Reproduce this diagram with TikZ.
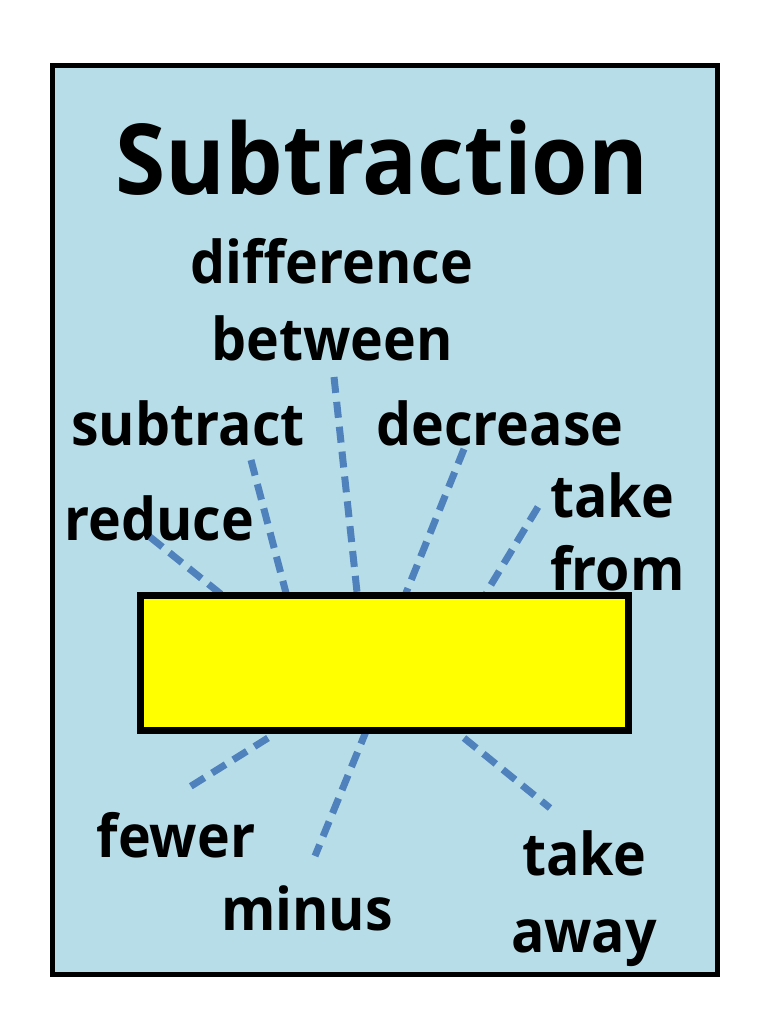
\documentclass[tikz,border=0pt]{standalone}
\usepackage{fontspec}
\setmainfont{Open Sans}
\newcommand{\sq}[1]{\scalebox{0.94}[1]{#1}}
\begin{document}
\begin{tikzpicture}[x=1pt,y=-1pt,
  word/.style={font=\bfseries\fontsize{59}{70}\selectfont, anchor=base, inner sep=0pt, text=black},
  title/.style={font=\bfseries\fontsize{98}{110}\selectfont, anchor=base, inner sep=0pt},
  ray/.style={draw={rgb,255:red,79;green,129;blue,189}, line width=7pt, dash pattern=on 16pt off 9pt},
]
\useasboundingbox (0,0) rectangle (768,1024);
\draw[line width=5pt, fill={rgb,255:red,183;green,221;blue,232}] (52,66) rectangle (717,974);
\node[title] (title) at (382,195) {\scalebox{0.93}[1]{Subtraction}};
\node[word] (diff) at (332,283) {\sq{difference}};
\node[word] (betw) at (332,360) {\sq{between}};
\node[word] (subt) at (188,445) {\sq{subtract}};
\node[word] (decr) at (500,445) {\sq{decrease}};
\node[word] (redu) at (159,540) {\sq{reduce}};
\node[word, anchor=base west] (take1) at (550,517) {\sq{take}};
\node[word, anchor=base west] (from) at (550,590) {\sq{from}};
\node[word] (fewer) at (176,857) {\sq{fewer}};
\node[word] (minus) at (307,930) {\sq{minus}};
\node[word] (take2) at (584,875) {\sq{take}};
\node[word] (away) at (584,952) {\sq{away}};
\coordinate (r1) at (150,537); \coordinate (r2) at (222,595);
\coordinate (s1) at (251,460); \coordinate (s2) at (286,593);
\coordinate (d1) at (334,377); \coordinate (d2) at (357,592);
\coordinate (c1) at (464,449); \coordinate (c2) at (406,593);
\coordinate (t1) at (538,507); \coordinate (t2) at (486,593);
\coordinate (f1) at (188,788); \coordinate (f2) at (268,738);
\coordinate (m1) at (315,856); \coordinate (m2) at (367,729);
\coordinate (a1) at (550,808); \coordinate (a2) at (464,738);
\draw[ray] (r1) -- (r2);
\draw[ray] (s1) -- (s2);
\draw[ray] (d1) -- (d2);
\draw[ray] (c1) -- (c2);
\draw[ray] (t1) -- (t2);
\draw[ray] (f2) -- (f1);
\draw[ray] (m2) -- (m1);
\draw[ray] (a2) -- (a1);
\node[draw, line width=7pt, fill={rgb,255:red,255;green,255;blue,0}, minimum width=488pt, minimum height=135pt, anchor=north west, inner sep=0pt, outer sep=0pt] (box) at (140,595) {};
\end{tikzpicture}
\end{document}
